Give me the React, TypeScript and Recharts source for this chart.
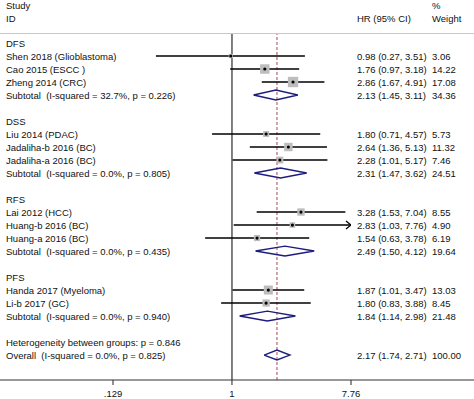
import React from "react";
import {
  ScatterChart,
  Scatter,
  XAxis,
  YAxis,
  ReferenceLine,
  ErrorBar,
} from "recharts";

// groups and rows (row index = line of the forest plot, top to bottom)
const groupNames = ["DFS", "DSS", "RFS", "PFS"];
const groupRows = [0, 6, 12, 18];

const studyNames = [
  "Shen 2018 (Glioblastoma)",
  "Cao 2015 (ESCC )",
  "Zheng 2014 (CRC)",
  "Liu 2014 (PDAC)",
  "Jadaliha-b 2016 (BC)",
  "Jadaliha-a 2016 (BC)",
  "Lai 2012 (HCC)",
  "Huang-b 2016 (BC)",
  "Huang-a 2016 (BC)",
  "Handa 2017 (Myeloma)",
  "Li-b 2017 (GC)",
];
const studyRows = [1, 2, 3, 7, 8, 9, 13, 14, 15, 19, 20];
const studyHR = [0.98, 1.76, 2.86, 1.8, 2.64, 2.28, 3.28, 2.83, 1.54, 1.87, 1.8];
const studyLow = [0.27, 0.97, 1.67, 0.71, 1.36, 1.01, 1.53, 1.03, 0.63, 1.01, 0.83];
const studyHigh = [3.51, 3.18, 4.91, 4.57, 5.13, 5.17, 7.04, 7.76, 3.78, 3.47, 3.88];
const studyWeight = [3.06, 14.22, 17.08, 5.73, 11.32, 7.46, 8.55, 4.9, 6.19, 13.03, 8.45];

const subtotalLabels = [
  "Subtotal  (I-squared = 32.7%, p = 0.226)",
  "Subtotal  (I-squared = 0.0%, p = 0.805)",
  "Subtotal  (I-squared = 0.0%, p = 0.435)",
  "Subtotal  (I-squared = 0.0%, p = 0.940)",
];
const subtotalRows = [4, 10, 16, 21];
const subtotalHR = [2.13, 2.31, 2.49, 1.84];
const subtotalLow = [1.45, 1.47, 1.5, 1.14];
const subtotalHigh = [3.11, 3.62, 4.12, 2.98];
const subtotalWeight = [34.36, 24.51, 19.64, 21.48];

const heterogeneityLabel = "Heterogeneity between groups: p = 0.846";
const heterogeneityRow = 23;
const overallLabel = "Overall  (I-squared = 0.0%, p = 0.825)";
const overallRow = 24;
const overallHR = 2.17;
const overallLow = 1.74;
const overallHigh = 2.71;
const overallWeight = 100.0;

const xTicks = [0.129, 1, 7.76];
const xTickLabels = [".129", "1", "7.76"];

const FONT = "'Liberation Sans', Arial, sans-serif";
const FS = 9.5;
const X_MIN = xTicks[0];
const X_MAX = xTicks[xTicks.length - 1];
const DIAMOND_HALF = 0.38;

const fmt = (v: number) => v.toFixed(2);
const ciText = (hr: number, lo: number, hi: number) =>
  `${fmt(hr)} (${fmt(lo)}, ${fmt(hi)})`;

type RowInfo = { label: string; hr?: string; wt?: string };
const rowInfo = new Map<number, RowInfo>();
groupNames.forEach((g, i) => rowInfo.set(groupRows[i], { label: g }));
studyNames.forEach((s, i) =>
  rowInfo.set(studyRows[i], {
    label: s,
    hr: ciText(studyHR[i], studyLow[i], studyHigh[i]),
    wt: fmt(studyWeight[i]),
  })
);
subtotalLabels.forEach((s, i) =>
  rowInfo.set(subtotalRows[i], {
    label: s,
    hr: ciText(subtotalHR[i], subtotalLow[i], subtotalHigh[i]),
    wt: fmt(subtotalWeight[i]),
  })
);
rowInfo.set(heterogeneityRow, { label: heterogeneityLabel });
rowInfo.set(overallRow, {
  label: overallLabel,
  hr: ciText(overallHR, overallLow, overallHigh),
  wt: fmt(overallWeight),
});
const rowTicks = Array.from(rowInfo.keys()).sort((a, b) => a - b);

const studyData = studyRows.map((r, i) => ({
  x: studyHR[i],
  y: r,
  w: studyWeight[i],
  err: [studyHR[i] - studyLow[i], Math.min(studyHigh[i], X_MAX) - studyHR[i]],
}));

const arrowData = studyRows
  .map((r, i) => ({ x: X_MAX, y: r, hi: studyHigh[i] }))
  .filter((d) => d.hi >= X_MAX);

const diamond = (hr: number, lo: number, hi: number, row: number) => [
  { x: lo, y: row },
  { x: hr, y: row - DIAMOND_HALF },
  { x: hi, y: row },
  { x: hr, y: row + DIAMOND_HALF },
  { x: lo, y: row },
];
const diamonds = [
  ...subtotalRows.map((r, i) =>
    diamond(subtotalHR[i], subtotalLow[i], subtotalHigh[i], r)
  ),
  diamond(overallHR, overallLow, overallHigh, overallRow),
];

const RowTick = (props: any) => {
  const { y, payload } = props;
  const info = rowInfo.get(payload.value);
  if (!info) return <g />;
  const common = {
    y,
    dominantBaseline: "central" as const,
    fontSize: FS,
    fontFamily: FONT,
    fill: "#111",
    style: { whiteSpace: "pre" as const },
  };
  return (
    <g>
      <text x={6} {...common}>
        {info.label}
      </text>
      {info.hr && (
        <text x={357} {...common}>
          {info.hr}
        </text>
      )}
      {info.wt && (
        <text x={432} {...common}>
          {info.wt}
        </text>
      )}
    </g>
  );
};

const BoxShape = (p: any) => {
  const s = Math.sqrt(p.payload.w) * 2.5;
  return (
    <g>
      <rect x={p.cx - s / 2} y={p.cy - s / 2} width={s} height={s} fill="#bdbdbd" />
      <circle cx={p.cx} cy={p.cy} r={1.6} fill="#000" />
    </g>
  );
};

const ArrowShape = (p: any) => (
  <polyline
    points={`${p.cx - 5},${p.cy - 4} ${p.cx},${p.cy} ${p.cx - 5},${p.cy + 4}`}
    fill="none"
    stroke="#000"
    strokeWidth={1.3}
  />
);

const Empty = () => <g />;

export default function App() {
  return (
    <div
      style={{
        position: "absolute",
        left: 0,
        top: 0,
        width: 474,
        height: 399,
        background: "#fff",
      }}
    >
      <ScatterChart
        width={474}
        height={399}
        margin={{ top: 33, right: 123, bottom: 0, left: 0 }}
      >
        <XAxis
          type="number"
          dataKey="x"
          scale="log"
          domain={[X_MIN, X_MAX]}
          allowDataOverflow
          ticks={xTicks}
          interval={0}
          tickFormatter={(v: number) => xTickLabels[xTicks.indexOf(v)] ?? String(v)}
          axisLine={false}
          tickLine={{ stroke: "#222" }}
          tickSize={5}
          tickMargin={5}
          height={19}
          tick={{ fontSize: FS, fontFamily: FONT, fill: "#111" }}
        />
        <YAxis
          type="number"
          dataKey="y"
          domain={[-0.77, 25.92]}
          reversed
          allowDataOverflow
          ticks={rowTicks}
          interval={0}
          width={113}
          axisLine={false}
          tickLine={false}
          tick={<RowTick />}
        />
        <ReferenceLine x={1} stroke="#555" strokeWidth={1.5} />
        <ReferenceLine
          x={overallHR}
          stroke="#a8475a"
          strokeWidth={1}
          strokeDasharray="3 2"
        />
        {diamonds.map((d, i) => (
          <Scatter
            key={i}
            data={d}
            fill="#1d1d7e"
            line={{ stroke: "#1d1d7e", strokeWidth: 1.4 }}
            lineType="joint"
            shape={<Empty />}
            isAnimationActive={false}
          />
        ))}
        {/* CI lines first, boxes drawn over them */}
        <Scatter data={studyData} shape={<Empty />} isAnimationActive={false}>
          <ErrorBar
            dataKey="err"
            direction="x"
            width={0}
            stroke="#000"
            strokeWidth={1.4}
          />
        </Scatter>
        <Scatter data={studyData} shape={<BoxShape />} isAnimationActive={false} />
        <Scatter data={arrowData} shape={<ArrowShape />} isAnimationActive={false} />
      </ScatterChart>
      <svg
        width={474}
        height={399}
        style={{ position: "absolute", left: 0, top: 0, pointerEvents: "none" }}
        fontFamily={FONT}
        fontSize={FS}
        fill="#111"
      >
        <text x={6} y={5} dominantBaseline="central">Study</text>
        <text x={6} y={18} dominantBaseline="central">ID</text>
        <text x={357} y={18} dominantBaseline="central">HR (95% CI)</text>
        <text x={432} y={5} dominantBaseline="central">%</text>
        <text x={432} y={18} dominantBaseline="central">Weight</text>
        <line x1={0} x2={474} y1={33.5} y2={33.5} stroke="#c8c8c8" strokeWidth={1} />
        <line x1={0} x2={474} y1={380} y2={380} stroke="#333" strokeWidth={1.2} />
      </svg>
    </div>
  );
}
